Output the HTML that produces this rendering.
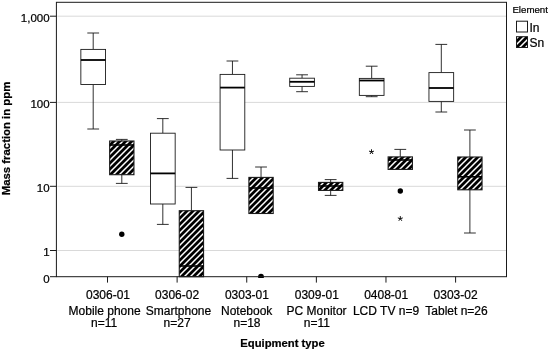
<!DOCTYPE html>
<html lang="en"><head><meta charset="utf-8"><title>Box plot</title>
<style>html,body{margin:0;padding:0;background:#fff}svg{display:block}</style></head>
<body>
<svg width="550" height="352" viewBox="0 0 550 352">
<defs>
<pattern id="h0" patternUnits="userSpaceOnUse" width="6" height="6" patternTransform="translate(0 0)"><rect width="6" height="6" fill="#000"/><path d="M-1 1L1 -1M-1 7L7 -1M5 7L7 5" stroke="#fff" stroke-width="1.5" fill="none"/></pattern>
<pattern id="h1" patternUnits="userSpaceOnUse" width="6" height="6" patternTransform="translate(5 0)"><rect width="6" height="6" fill="#000"/><path d="M-1 1L1 -1M-1 7L7 -1M5 7L7 5" stroke="#fff" stroke-width="1.5" fill="none"/></pattern>
<pattern id="h2" patternUnits="userSpaceOnUse" width="6" height="6" patternTransform="translate(5 0)"><rect width="6" height="6" fill="#000"/><path d="M-1 1L1 -1M-1 7L7 -1M5 7L7 5" stroke="#fff" stroke-width="1.5" fill="none"/></pattern>
<pattern id="h3" patternUnits="userSpaceOnUse" width="6" height="6" patternTransform="translate(2 0)"><rect width="6" height="6" fill="#000"/><path d="M-1 1L1 -1M-1 7L7 -1M5 7L7 5" stroke="#fff" stroke-width="1.5" fill="none"/></pattern>
<pattern id="h4" patternUnits="userSpaceOnUse" width="6" height="6" patternTransform="translate(5 0)"><rect width="6" height="6" fill="#000"/><path d="M-1 1L1 -1M-1 7L7 -1M5 7L7 5" stroke="#fff" stroke-width="1.5" fill="none"/></pattern>
<pattern id="h5" patternUnits="userSpaceOnUse" width="6" height="6" patternTransform="translate(2 0)"><rect width="6" height="6" fill="#000"/><path d="M-1 1L1 -1M-1 7L7 -1M5 7L7 5" stroke="#fff" stroke-width="1.5" fill="none"/></pattern>
<pattern id="h6" patternUnits="userSpaceOnUse" width="6" height="6" patternTransform="translate(3 0)"><rect width="6" height="6" fill="#000"/><path d="M-1 1L1 -1M-1 7L7 -1M5 7L7 5" stroke="#fff" stroke-width="1.5" fill="none"/></pattern>
<clipPath id="cp"><rect x="0" y="0" width="550" height="277.9"/></clipPath></defs>
<rect width="550" height="352" fill="#fff"/>
<line x1="57.4" x2="506.0" y1="16.2" y2="16.2" stroke="#d9d9d9" stroke-width="1"/>
<line x1="57.4" x2="506.0" y1="102.4" y2="102.4" stroke="#d9d9d9" stroke-width="1"/>
<line x1="57.4" x2="506.0" y1="186.3" y2="186.3" stroke="#d9d9d9" stroke-width="1"/>
<line x1="57.4" x2="506.0" y1="250.5" y2="250.5" stroke="#d9d9d9" stroke-width="1"/>
<g stroke="#1a1a1a" stroke-width="0.9" fill="none"><path d="M93.20 33V49.4M87.30 33H99.10M93.20 84.5V129M87.30 129H99.10"/><rect x="80.85" y="49.4" width="24.70" height="35.10" fill="#fff" stroke-width="0.9"/><line x1="80.85" x2="105.55" y1="60" y2="60" stroke="#000" stroke-width="1.8"/></g>
<g stroke="#1a1a1a" stroke-width="0.9" fill="none"><path d="M162.82 118.6V133.2M156.92 118.6H168.72M162.82 204V224.4M156.92 224.4H168.72"/><rect x="150.47" y="133.2" width="24.70" height="70.80" fill="#fff" stroke-width="0.9"/><line x1="150.47" x2="175.17" y1="173.4" y2="173.4" stroke="#000" stroke-width="1.8"/></g>
<g stroke="#1a1a1a" stroke-width="0.9" fill="none"><path d="M232.44 61V74.4M226.54 61H238.34M232.44 150V178.4M226.54 178.4H238.34"/><rect x="220.09" y="74.4" width="24.70" height="75.60" fill="#fff" stroke-width="0.9"/><line x1="220.09" x2="244.79" y1="87.6" y2="87.6" stroke="#000" stroke-width="1.8"/></g>
<g stroke="#1a1a1a" stroke-width="0.9" fill="none"><path d="M302.06 74.8V78.2M296.16 74.8H307.96M302.06 86.4V91.7M296.16 91.7H307.96"/><rect x="289.71" y="78.2" width="24.70" height="8.20" fill="#fff" stroke-width="0.9"/><line x1="289.71" x2="314.41" y1="81.8" y2="81.8" stroke="#000" stroke-width="1.8"/></g>
<g stroke="#1a1a1a" stroke-width="0.9" fill="none"><path d="M371.68 66.2V78.4M365.78 66.2H377.58M371.68 95.4V96.7M365.78 96.7H377.58"/><rect x="359.33" y="78.4" width="24.70" height="17.00" fill="#fff" stroke-width="0.9"/><line x1="359.33" x2="384.03" y1="80.5" y2="80.5" stroke="#000" stroke-width="1.8"/></g>
<g stroke="#1a1a1a" stroke-width="0.9" fill="none"><path d="M441.30 44.4V72.6M435.40 44.4H447.20M441.30 101.4V112M435.40 112H447.20"/><rect x="428.95" y="72.6" width="24.70" height="28.80" fill="#fff" stroke-width="0.9"/><line x1="428.95" x2="453.65" y1="88" y2="88" stroke="#000" stroke-width="1.8"/></g>
<g stroke="#1a1a1a" stroke-width="0.9" fill="none"><path d="M121.80 139.4V141M115.90 139.4H127.70M121.80 174.7V183.4M115.90 183.4H127.70"/><rect x="109.65" y="141" width="24.30" height="33.70" fill="url(#h0)" stroke-width="1.1"/><line x1="109.65" x2="133.95" y1="145" y2="145" stroke="#000" stroke-width="1.6"/></g>
<g stroke="#1a1a1a" stroke-width="0.9" fill="none"><path d="M191.42 187.4V210.7M185.52 187.4H197.32"/><rect x="179.27" y="210.7" width="24.30" height="66.00" fill="url(#h1)" stroke-width="1.1"/><line x1="179.27" x2="203.57" y1="266" y2="266" stroke="#000" stroke-width="1.6"/></g>
<g stroke="#1a1a1a" stroke-width="0.9" fill="none"><path d="M261.04 167V177.4M255.14 167H266.94"/><rect x="248.89" y="177.4" width="24.30" height="36.10" fill="url(#h2)" stroke-width="1.1"/><line x1="248.89" x2="273.19" y1="188" y2="188" stroke="#000" stroke-width="1.6"/></g>
<g stroke="#1a1a1a" stroke-width="0.9" fill="none"><path d="M330.66 179.6V182.4M324.76 179.6H336.56M330.66 190.4V195.4M324.76 195.4H336.56"/><rect x="318.51" y="182.4" width="24.30" height="8.00" fill="url(#h3)" stroke-width="1.1"/><line x1="318.51" x2="342.81" y1="186" y2="186" stroke="#000" stroke-width="1.6"/></g>
<g stroke="#1a1a1a" stroke-width="0.9" fill="none"><path d="M400.28 149.4V156.9M394.38 149.4H406.18"/><rect x="388.13" y="156.9" width="24.30" height="12.50" fill="url(#h4)" stroke-width="1.1"/><line x1="388.13" x2="412.43" y1="160" y2="160" stroke="#000" stroke-width="1.6"/></g>
<g stroke="#1a1a1a" stroke-width="0.9" fill="none"><path d="M469.90 130V157M464.00 130H475.80M469.90 189.8V233M464.00 233H475.80"/><rect x="457.75" y="157" width="24.30" height="32.80" fill="url(#h5)" stroke-width="1.1"/><line x1="457.75" x2="482.05" y1="176.8" y2="176.8" stroke="#000" stroke-width="1.6"/></g>
<circle cx="121.8" cy="234.2" r="2.7" fill="#000"/>
<circle cx="400.3" cy="191" r="2.7" fill="#000"/>
<circle cx="261" cy="276.7" r="2.9" fill="#000" clip-path="url(#cp)"/>
<path d="M371.5 151.9L371.50 149.30M371.5 151.9L373.97 151.10M371.5 151.9L373.03 154.00M371.5 151.9L369.97 154.00M371.5 151.9L369.03 151.10" stroke="#000" stroke-width="0.95" fill="none"/>
<path d="M400.3 218.7L400.30 216.10M400.3 218.7L402.77 217.90M400.3 218.7L401.83 220.80M400.3 218.7L398.77 220.80M400.3 218.7L397.83 217.90" stroke="#000" stroke-width="0.95" fill="none"/>
<rect x="56.4" y="2.3" width="450.1" height="274.4" fill="none" stroke="#1a1a1a" stroke-width="1"/>
<line x1="50" x2="56.4" y1="16.2" y2="16.2" stroke="#1a1a1a" stroke-width="1"/>
<line x1="50" x2="56.4" y1="102.4" y2="102.4" stroke="#1a1a1a" stroke-width="1"/>
<line x1="50" x2="56.4" y1="186.3" y2="186.3" stroke="#1a1a1a" stroke-width="1"/>
<line x1="50" x2="56.4" y1="250.5" y2="250.5" stroke="#1a1a1a" stroke-width="1"/>
<line x1="50" x2="56.4" y1="276.7" y2="276.7" stroke="#1a1a1a" stroke-width="1"/>
<line x1="107.50" x2="107.50" y1="276.7" y2="282.6" stroke="#1a1a1a" stroke-width="1"/>
<line x1="177.12" x2="177.12" y1="276.7" y2="282.6" stroke="#1a1a1a" stroke-width="1"/>
<line x1="246.74" x2="246.74" y1="276.7" y2="282.6" stroke="#1a1a1a" stroke-width="1"/>
<line x1="316.36" x2="316.36" y1="276.7" y2="282.6" stroke="#1a1a1a" stroke-width="1"/>
<line x1="385.98" x2="385.98" y1="276.7" y2="282.6" stroke="#1a1a1a" stroke-width="1"/>
<line x1="455.60" x2="455.60" y1="276.7" y2="282.6" stroke="#1a1a1a" stroke-width="1"/>
<g font-family="'Liberation Sans', Arial, sans-serif" fill="#000" stroke="#000" stroke-width="0.22">
<g font-size="11.5" text-anchor="end">
<text x="49.6" y="22.1">1,000</text>
<text x="49.6" y="108.3">100</text>
<text x="49.6" y="192.2">10</text>
<text x="49.6" y="256.4">1</text>
<text x="49.6" y="282.6">0</text>
</g>
<g font-size="12" text-anchor="middle">
<text x="108.0" y="299.4">0306-01</text>
<text x="104.6" y="314.5">Mobile phone</text>
<text x="104.1" y="326.8">n=11</text>
<text x="177.1" y="299.4">0306-02</text>
<text x="178.5" y="314.5">Smartphone</text>
<text x="177.1" y="326.8">n=27</text>
<text x="246.9" y="299.4">0303-01</text>
<text x="246.7" y="314.5">Notebook</text>
<text x="247.0" y="326.8">n=18</text>
<text x="316.8" y="299.4">0309-01</text>
<text x="316.6" y="314.5">PC Monitor</text>
<text x="316.8" y="326.8">n=11</text>
<text x="386.2" y="299.4">0408-01</text>
<text x="386.0" y="314.5">LCD TV n=9</text>
<text x="455.6" y="299.4">0303-02</text>
<text x="456.5" y="314.5">Tablet n=26</text>
</g>
<text x="282.5" y="346.6" font-size="11.25" font-weight="bold" text-anchor="middle">Equipment type</text>
<text transform="translate(10.2 138.45) rotate(-90)" font-size="11.36" font-weight="bold" text-anchor="middle">Mass fraction in ppm</text>
<text x="512.4" y="12.6" font-size="9.7">Element</text>
<text x="529.4" y="31.8" font-size="12">In</text>
<text x="529.4" y="47.3" font-size="12">Sn</text>
</g>
<rect x="516.5" y="21.2" width="11" height="10.8" fill="#fff" stroke="#1a1a1a" stroke-width="1"/>
<rect x="516.5" y="36.7" width="11" height="10.8" fill="url(#h6)" stroke="#1a1a1a" stroke-width="1"/>
</svg>
</body></html>
